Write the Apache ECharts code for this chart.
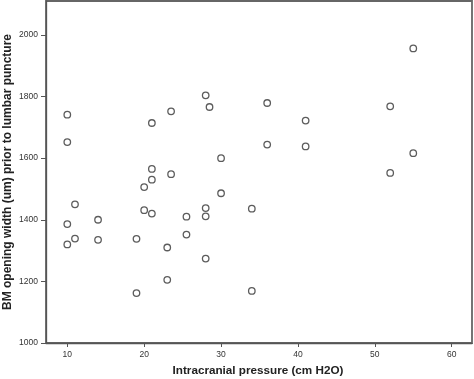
<!DOCTYPE html>
<html><head><meta charset="utf-8">
<script src="https://cdn.jsdelivr.net/npm/echarts@6/dist/echarts.min.js"></script>
<style>html,body{margin:0;padding:0;background:#fff}#c{width:474px;height:379px}</style>
</head><body><div id="c"></div>
<script>
const xTicks = [10, 20, 30, 40, 50, 60];
const yTicks = [1000, 1200, 1400, 1600, 1800, 2000];
const pressure = [10, 10, 10, 10, 11, 11, 14, 14, 19, 19, 20, 20, 21, 21, 21, 21, 23, 23, 23.5, 23.5, 25.5, 25.5, 28, 28.5, 28, 28, 28, 30, 30, 34, 34, 36, 36, 41, 41, 52, 52, 55, 55];
const width = [1741, 1652, 1386, 1320, 1450, 1339, 1400, 1335, 1338, 1162, 1506, 1431, 1714, 1565, 1530, 1420, 1310, 1205, 1752, 1548, 1410, 1352, 1804, 1766, 1438, 1411, 1274, 1600, 1486, 1436, 1169, 1779, 1644, 1722, 1638, 1768, 1552, 1956, 1616];
const xTitle = 'Intracranial pressure (cm H2O)';
const yTitle = 'BM opening width (um) prior to lumbar puncture';

const points = pressure.map((p, i) => [p, width[i]]);
const chart = echarts.init(document.getElementById('c'), null, {renderer: 'canvas'});
const font = 'Liberation Sans, Arial, sans-serif';
const lbl = {color: '#333', fontSize: 8.5, fontFamily: font, formatter: v => String(v)};
const titleStyle = {fill: '#222', fontWeight: 'bold', fontFamily: font, align: 'center', verticalAlign: 'middle'};
chart.setOption({
  animation: false,
  grid: {left: 46, right: 2, top: 1, bottom: 36, containLabel: false, outerBoundsMode: 'none', show: true, borderColor: '#666', borderWidth: 1.8, backgroundColor: '#fff'},
  graphic: [
    {type: 'text', x: 258, y: 371, style: Object.assign({text: xTitle, fontSize: 11.7}, titleStyle)},
    {type: 'text', x: 8, y: 172, rotation: Math.PI / 2, style: Object.assign({text: yTitle, fontSize: 12}, titleStyle)}
  ],
  xAxis: {
    type: 'value', min: 7.23, max: 62.64,
    axisLine: {show: true, lineStyle: {color: '#555', width: 1.3}},
    axisTick: {show: true, length: 4, lineStyle: {color: '#555'}, customValues: xTicks},
    axisLabel: Object.assign({margin: 7, customValues: xTicks}, lbl),
    splitLine: {show: false}
  },
  yAxis: {
    type: 'value', min: 1000, max: 2110,
    axisLine: {show: true, lineStyle: {color: '#555', width: 1.3}},
    axisTick: {show: true, length: 5, lineStyle: {color: '#555'}, customValues: yTicks},
    axisLabel: Object.assign({margin: 8, customValues: yTicks}, lbl),
    splitLine: {show: false}
  },
  series: [{
    type: 'scatter', data: points, symbol: 'circle', symbolSize: 6.5,
    itemStyle: {color: '#fff', borderColor: '#333', borderWidth: 1.3}
  }]
});
</script></body></html>
